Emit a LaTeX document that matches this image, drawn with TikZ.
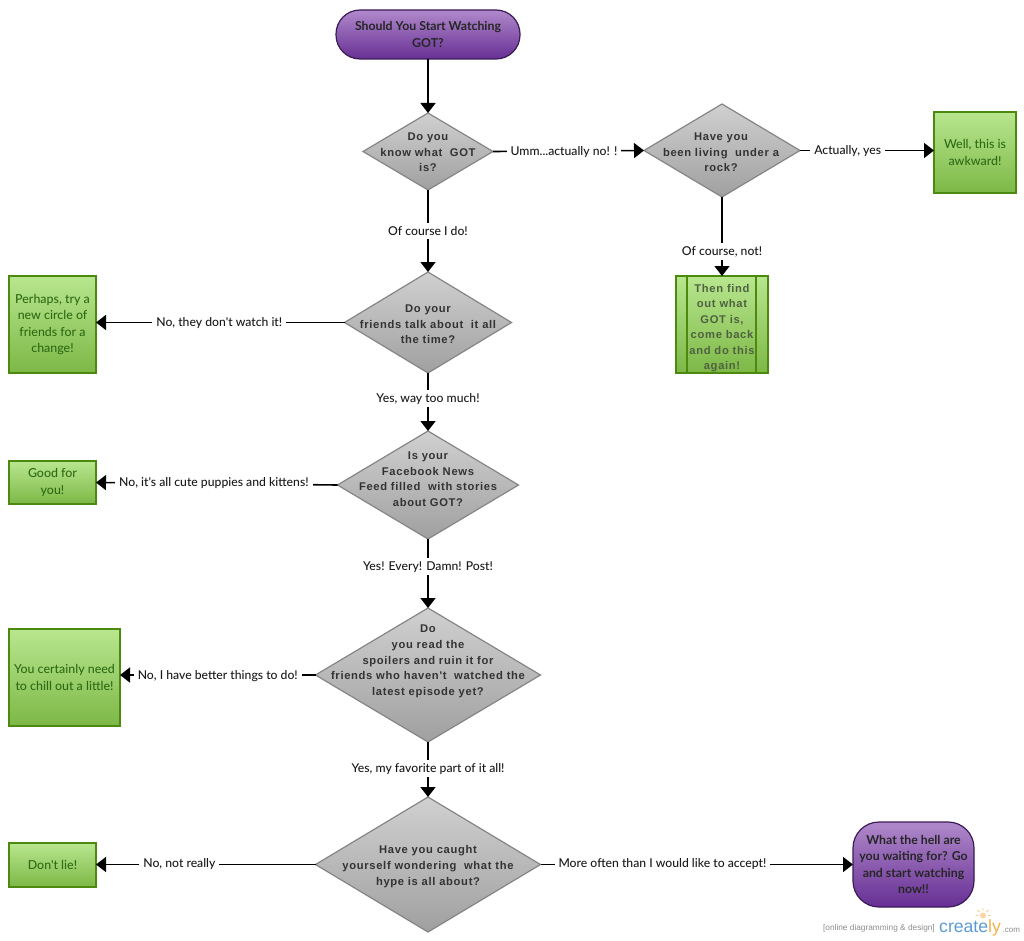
\documentclass[tikz,border=0pt]{standalone}
\usepackage{fontspec}
\usetikzlibrary{arrows.meta,shapes.geometric}
\newfontfamily\lat{Lato Medium}
\newfontfamily\latb{Lato Bold}
\newfontfamily\arb[LetterSpace=6]{Liberation Sans Bold}
\newfontfamily\arr{Liberation Sans}
\definecolor{gline}{HTML}{858585}
\definecolor{pline}{HTML}{3A1B57}
\definecolor{bline}{HTML}{4B8A0E}
\definecolor{bgtxt}{HTML}{2C6A14}
\definecolor{proctxt}{HTML}{4F6240}
\definecolor{purpT}{HTML}{B089CB}
\definecolor{purpB}{HTML}{672F94}
\definecolor{greenT}{HTML}{B8E68F}
\definecolor{greenB}{HTML}{7DB846}
\definecolor{grayT}{HTML}{D0D0D0}
\definecolor{grayB}{HTML}{A0A0A0}
\definecolor{sunc}{HTML}{F2B04A}
\definecolor{crblue}{HTML}{5B9BD5}
\tikzset{
  x=1pt,y=-1pt,
  ask/.style={diamond,aspect=1.6,inner sep=0pt,outer sep=0pt,draw=gline,line width=1.2pt,top color=grayT,bottom color=grayB},
  asktxt/.style={align=center,text=black!80,font=\arb\fontsize{11.2}{15.6}\selectfont,inner sep=0pt},
  term/.style={rectangle,inner sep=0pt,outer sep=0pt,draw=pline,line width=1.2pt,top color=purpT,bottom color=purpB,align=center,text=black!85,font=\latb\fontsize{12.3}{16.3}\selectfont},
  res/.style={rectangle,inner sep=0pt,outer sep=0pt,draw=bline,line width=1.5pt,top color=greenT,bottom color=greenB,align=center,text=bgtxt,font=\lat\fontsize{12.4}{16.3}\selectfont},
  conn/.style={line width=1.6pt,black,-{Triangle[length=10pt,width=15pt]}},
  lab/.style={fill=white,inner xsep=4pt,inner ysep=3pt,text=black!90,font=\lat\fontsize{12.2}{15}\selectfont}
}
\begin{document}
\begin{tikzpicture}
\useasboundingbox (0,0) rectangle (1024,941);
% terminators
\node[term,minimum width=184pt,minimum height=49pt,rounded corners=24pt] (start) at (428,34.5) {Should You Start Watching\\GOT?};
\node[term,minimum width=121pt,minimum height=85pt,rounded corners=26pt] (go) at (913.5,864.5) {What the hell are\\you waiting for? Go\\and start watching\\now!!};
% decisions
\node[ask,minimum width=130pt,minimum height=77pt] (d1) at (428,151.5) {};
\node[asktxt] (t1) at (428,152.5) {Do you\\know what\ \ GOT\\is?};
\node[ask,minimum width=156pt,minimum height=93pt] (d2) at (722,150.5) {};
\node[asktxt] (t2) at (721,152.5) {Have you\\been living\ \ under a\\rock?};
\node[ask,minimum width=167pt,minimum height=101pt] (d3) at (428,322.5) {};
\node[asktxt] (t3) at (428,324.5) {Do your\\friends talk about\ \ it all\\the time?};
\node[ask,minimum width=181pt,minimum height=108pt] (d4) at (428,485) {};
\node[asktxt] (t4) at (428,479) {Is your\\Facebook News\\Feed filled\ \ with stories\\about GOT?};
\node[ask,minimum width=225pt,minimum height=134pt] (d5) at (428,675) {};
\node[asktxt] (t5) at (428,661.5) {Do\\you read the\\spoilers and ruin it for\\friends who haven't\ \ watched the\\latest episode yet?};
\node[ask,minimum width=225pt,minimum height=135pt] (d6) at (428,864.5) {};
\node[asktxt] (t6) at (428,866.5) {Have you caught\\yourself wondering\ \ what the\\hype is all about?};
% results
\node[res,minimum width=82pt,minimum height=81pt] (well) at (975,152.5) {Well, this is\\awkward!};
\node[res,minimum width=92pt,minimum height=97pt] (proc) at (722,324.5) {};
\draw[bline,line width=1.3pt] ([xshift=11pt]proc.north west) -- ([xshift=11pt]proc.south west)
  ([xshift=-12pt]proc.north east) -- ([xshift=-12pt]proc.south east);
\node[align=center,inner sep=0pt,text=proctxt,font=\arb\fontsize{11.2}{15.5}\selectfont] (proct) at (722,328) {Then find\\out what\\GOT is,\\come back\\and do this\\again!};
\node[res,minimum width=87pt,minimum height=97pt] (perhaps) at (52.5,324.5) {Perhaps, try a\\new circle of\\friends for a\\change!};
\node[res,minimum width=87pt,minimum height=43pt] (good) at (52.5,482.5) {Good for\\you!};
\node[res,minimum width=111pt,minimum height=97pt] (chill) at (64.5,677.5) {You certainly need\\to chill out a little!};
\node[res,minimum width=87pt,minimum height=44pt] (lie) at (52.5,865) {Don't lie!};
% connectors
\draw[conn] (start.south) -- (d1.north);
\draw[conn] (d1.east) -- node[lab,pos=.47,yshift=-1pt] (l1) {Umm...actually no! !} (d2.west);
\draw[conn] (d2.east) -- node[lab,pos=.356,yshift=-.5pt] (l2) {Actually, yes} (well.west |- d2.east);
\draw[conn] (d2.south) -- node[lab,pos=.68,yshift=-1pt] (l3) {Of course, not!} (proc.north);
\draw[conn] (d1.south) -- node[lab,pos=.5] (l4) {Of course I do!} (d3.north);
\draw[conn] (d3.west) -- node[lab,pos=.504,yshift=-1pt] (l5) {No, they don't watch it!} (perhaps.east |- d3.west);
\draw[conn] (d3.south) -- node[lab,pos=.43,yshift=-1pt] (l6) {Yes, way too much!} (d4.north);
\draw[conn] (d4.west) -- node[lab,pos=.512,yshift=1pt] (l7) {No, it's all cute puppies and kittens!} (good.east);
\draw[conn] (d4.south) -- node[lab,pos=.39,yshift=-1pt] (l8) {Yes! Every! Damn! Post!} (d5.north);
\draw[conn] (d5.west) -- node[lab,pos=.5,yshift=-1pt] (l9) {No, I have better things to do!} (chill.east |- d5.west);
\draw[conn] (d5.south) -- node[lab,pos=.45,yshift=-2pt] (l10) {Yes, my favorite part of it all!} (d6.north);
\draw[conn] (d6.west) -- node[lab,pos=.62] (l11) {No, not really} (lie.east |- d6.west);
\draw[conn] (d6.east) -- node[lab,pos=.39] (l12) {More often than I would like to accept!} (go.west);
% watermark
\node[anchor=east,inner sep=0pt,text=black!45,font=\arr\fontsize{8.3}{10}\selectfont] (wm) at (935,928) {[online diagramming \& design]};
\node[anchor=base west,inner sep=0pt,font=\arr\fontsize{17.6}{20}\selectfont] (cr) at (939,932.5) {\textcolor{crblue}{create}\textcolor{sunc}{ly}};
\node[anchor=base west,inner sep=0pt,text=black!45,font=\arr\fontsize{8}{10}\selectfont] (com) at (1002.5,932) {.com};
\draw[sunc!70,line width=.8pt] (983,910.5) -- (983,908) (979.5,912) -- (977.5,910) (986.5,912) -- (988.5,910) (978,915.5) -- (975.5,915.5) (988,915.5) -- (990.5,915.5);
\fill[sunc!50] (983,915.5) circle (3pt);
\end{tikzpicture}
\end{document}
